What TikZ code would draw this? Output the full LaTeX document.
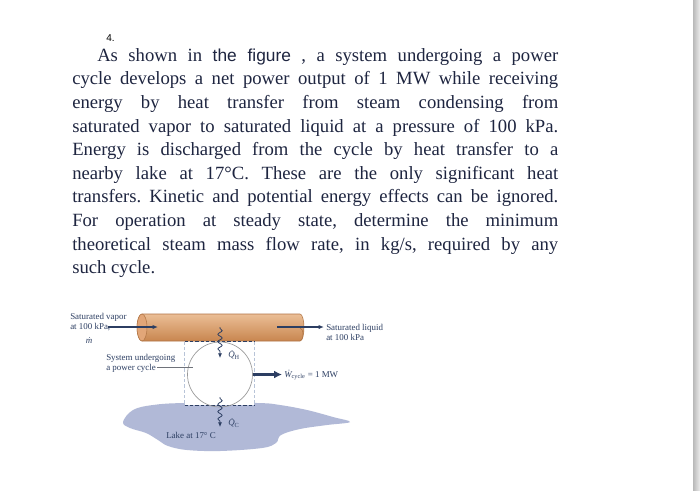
\documentclass[tikz,border=0pt]{standalone}
\usepackage{fontspec}
\setmainfont{Liberation Serif}
\newfontfamily\figsans{Liberation Sans}
\usetikzlibrary{arrows.meta,decorations.pathmorphing}
\definecolor{ink}{HTML}{1E2540}
\definecolor{navy}{HTML}{2C3E62}
\definecolor{pipetop}{HTML}{EBBE96}
\definecolor{pipemid}{HTML}{E2A678}
\definecolor{pipebot}{HTML}{C8864F}
\definecolor{pipeline}{HTML}{B07444}
\definecolor{lakeblue}{HTML}{B1B9D7}
\definecolor{sysside}{HTML}{B8C4D8}
\newcommand\dotit[1]{{\itshape #1\char"0307}}
\tikzset{
  flow/.style={navy,line width=0.8pt,-{Latex[length=4pt,width=3.2pt]}},
  heat/.style={navy,line width=0.6pt,decorate,
    decoration={snake,amplitude=1.6pt,segment length=5.5pt,pre length=1pt,post length=4pt},
    -{Latex[length=3.5pt,width=3pt]}},
  lbl/.style={navy,font=\fontsize{6.7}{7.8}\selectfont,inner sep=0pt},
}

\begin{document}
\begin{tikzpicture}[x=0.75pt,y=-0.75pt]
\useasboundingbox (0,0) rectangle (700,490);
\fill[white] (0,0) rectangle (700,490);
\shade[left color=gray!55,right color=gray!15] (693,0) rectangle (700,490);

\node[anchor=base west,inner sep=0pt,font=\figsans\fontsize{7.5}{9}\selectfont] (num) at (106,41) {4.};
\node[anchor=north west,inner sep=0pt,text width=364.5pt,align=justify,text=ink,
  font=\fontsize{14}{17.7}\selectfont] (problem) at (72,48)
  {\frenchspacing\hyphenpenalty=10000\hspace*{18.75pt}As shown in {\figsans\fontsize{13}{17.7}\selectfont the figure} , a system undergoing a power\linebreak
   cycle develops a net power output of 1 MW while receiving\linebreak
   energy by heat transfer from steam condensing from\linebreak
   saturated vapor to saturated liquid at a pressure of 100 kPa.\linebreak
   Energy is discharged from the cycle by heat transfer to a\linebreak
   nearby lake at 17°C. These are the only significant heat\linebreak
   transfers. Kinetic and potential energy effects can be ignored.\linebreak
   For operation at steady state, determine the minimum\linebreak
   theoretical steam mass flow rate, in kg/s, required by any\linebreak
   such cycle.};

\fill[lakeblue] plot[smooth cycle,tension=0.6] coordinates {(123,422) (133,410) (153,405)
  (185,403) (257,403) (280,405) (307,410) (333,417) (350,422) (327,425) (300,429) (281,435)
  (276,443) (262,448) (220,451) (187,450) (168,446) (158,440) (146,433) (130,428)};

\shade[top color=pipetop,middle color=pipemid,bottom color=pipebot]
  (142,314) -- (300,314) arc[start angle=-90,end angle=90,x radius=4,y radius=13.5]
  -- (142,341) arc[start angle=90,end angle=270,x radius=5,y radius=13.5] -- cycle;
\draw[pipeline,line width=0.4pt]
  (142,314) -- (300,314) arc[start angle=-90,end angle=90,x radius=4,y radius=13.5]
  -- (142,341) arc[start angle=90,end angle=270,x radius=5,y radius=13.5] -- cycle;
\draw[pipeline,line width=0.4pt,fill=pipemid] (142,327.5) ellipse[x radius=5,y radius=13.5];
\draw[pipeline,line width=0.4pt] (300,328) arc[start angle=-90,end angle=90,x radius=3,y radius=6.5];

\node[fill=white,minimum width=51.75pt,minimum height=47.25pt,inner sep=0pt] (sysbox) at (219.5,373.5) {};
\draw[sysside,dash pattern=on 2.5pt off 1.5pt,line width=1.1pt] (sysbox.north west) -- (sysbox.south west)
  (sysbox.north east) -- (sysbox.south east);
\draw[navy,dash pattern=on 2.5pt off 1.5pt,line width=0.9pt] (sysbox.north west) -- (sysbox.north east)
  (sysbox.south west) -- (sysbox.south east);
\node[circle,draw=gray!80,line width=0.5pt,minimum size=48.75pt,inner sep=0pt] (cycle) at (220,374.5) {};

\coordinate (vin1) at (108,327);
\coordinate (vin2) at (158,327);
\coordinate (lq1) at (277,327);
\coordinate (lq2) at (324,327);
\draw[flow] (vin1) -- (vin2);
\draw[flow] (lq1) -- (lq2);

\coordinate (qh1) at (220,327);
\coordinate (qh2) at (220,358);
\coordinate (qc1) at (220,397);
\coordinate (qc2) at (220,427);
\draw[heat] (qh1) -- (qh2);
\draw[heat] (qc1) -- (qc2);

\coordinate (wout) at (282,374.5);
\draw[navy,line width=2pt,-{Latex[length=6pt,width=6pt]}] (cycle.east) -- (wout);

\coordinate (lead1) at (157,367);
\coordinate (lead2) at (193,367);
\draw[gray!80!navy,line width=0.5pt] (lead1) -- (lead2);

\node[lbl,anchor=north west,align=left] (vapor) at (70,313) {Saturated vapor\\at 100 kPa,};
\node[lbl] (mdot) at (89,341) {\dotit{m}};
\node[lbl,anchor=north west,align=left] (liquid) at (326,324) {Saturated liquid\\at 100 kPa};
\node[lbl,anchor=north west,align=left] (syslbl) at (106,354) {System undergoing\\a power cycle};
\node[lbl,anchor=west] (qh) at (228,355) {\dotit{Q}\textsubscript{H}};
\node[lbl,anchor=west] (qc) at (228,423) {\dotit{Q}\textsubscript{C}};
\node[lbl,anchor=west] (wlbl) at (284,375) {\dotit{W}\textsubscript{cycle} = 1 MW};
\node[lbl] (lake) at (191,435) {Lake at 17° C};
\end{tikzpicture}
\end{document}
